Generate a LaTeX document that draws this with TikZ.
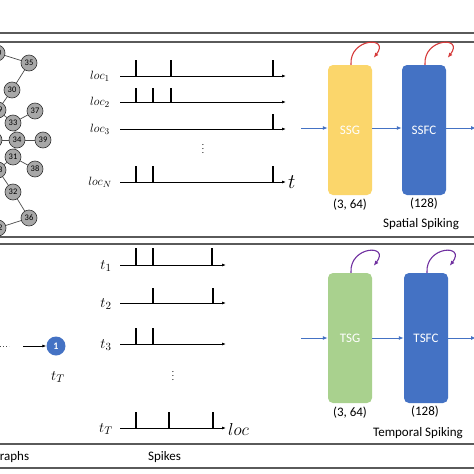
\documentclass[tikz,border=0pt]{standalone}
\usepackage{fontspec}
\setmainfont{Carlito}
\usetikzlibrary{arrows.meta,calc}
\definecolor{rulegray}{HTML}{5A5A5A}
\definecolor{nodegray}{HTML}{A8A8A8}
\definecolor{goldfill}{HTML}{FBD66B}
\definecolor{greenfill}{HTML}{A9D18E}
\definecolor{bluefill}{HTML}{4472C4}
\definecolor{loopred}{HTML}{D63A3A}
\definecolor{looppurple}{HTML}{7030A0}
\begin{document}
\begin{tikzpicture}[x=1pt,y=-1pt,
  gnode/.style={circle,draw=black!80,fill=nodegray,line width=0.6pt,minimum size=16pt,inner sep=0pt,font=\fontsize{8.5}{8.5}\selectfont},
  gedge/.style={draw=black!70,line width=0.7pt},
  hrule/.style={draw=rulegray,line width=1.1pt},
  axis/.style={-{Latex[length=4pt,width=3pt]},line width=0.8pt},
  spk/.style={line width=1.1pt},
  mlab/.style={inner sep=0pt,font=\fontsize{12.5}{12.5}\selectfont},
  tlabs/.style={inner sep=0pt,font=\fontsize{15}{15}\selectfont},
  block/.style={rounded corners=5pt,minimum width=44pt,minimum height=130pt,inner sep=0pt,text=white,font=\fontsize{13}{13}\selectfont},
  flow/.style={draw=bluefill,line width=1pt,-{Latex[length=5pt,width=4pt]}},
  selfloop/.style={line width=1.1pt,-{Latex[length=5pt,width=4pt]}},
  lab/.style={inner sep=0pt,font=\fontsize{13}{13}\selectfont},
]
\useasboundingbox (0,0) rectangle (474,474);
\fill[white] (0,0) rectangle (474,474);

% table rules
\draw[hrule] (0,33) -- (474,33);
\draw[hrule] (0,42) -- (474,42);
\draw[hrule] (0,237) -- (474,237);
\draw[hrule] (0,244) -- (474,244);
\draw[hrule] (0,444) -- (474,444);
\draw[hrule] (0,468) -- (474,468);

% ---------- graph (top left) ----------
\node[gnode] (g40) at (-3,53) {40};
\node[gnode] (g35) at (29,63) {35};
\node[gnode] (g30) at (12,90) {30};
\node[gnode] (g29) at (-2,110) {29};
\node[gnode] (g33) at (13,123) {33};
\node[gnode] (g37) at (35,111) {37};
\node[gnode] (g28) at (-6,140) {28};
\node[gnode] (g34) at (17,140) {34};
\node[gnode] (g39) at (43,140) {39};
\node[gnode] (g31) at (13,157) {31};
\node[gnode] (g38) at (35,169) {38};
\node[gnode] (g23) at (-2,170) {23};
\node[gnode] (g32) at (13,192) {32};
\node[gnode] (g36) at (29,218) {36};
\node[gnode] (g22) at (-2,228) {22};
\foreach \a/\b in {g40/g35,g35/g30,g30/g29,g29/g33,g33/g37,g33/g34,g34/g39,g34/g28,g34/g31,g31/g38,g31/g23,g23/g32,g32/g36,g36/g22}
  \draw[gedge] (\a) -- (\b);

% ---------- spatial spikes ----------
\node[mlab] (l1) at (100,76) {$loc_1$};
\node[mlab] (l2) at (100,102) {$loc_2$};
\node[mlab] (l3) at (100,129) {$loc_3$};
\node[mlab] (lN) at (100,182) {$loc_N$};
\coordinate (l1s) at (120,76);  \coordinate (l1e) at (286,76);
\coordinate (l2s) at (120,102); \coordinate (l2e) at (286,102);
\coordinate (l3s) at (120,129); \coordinate (l3e) at (286,129);
\coordinate (lNs) at (120,182); \coordinate (lNe) at (286,182);
\draw[axis] (l1s) -- (l1e);
\draw[axis] (l2s) -- (l2e);
\draw[axis] (l3s) -- (l3e);
\draw[axis] (lNs) -- (lNe);
\foreach \x in {136,171,273} \draw[spk] (\x,76) -- (\x,60);
\foreach \x in {136,153,171} \draw[spk] (\x,102) -- (\x,88);
\foreach \x in {273} \draw[spk] (\x,129) -- (\x,114);
\foreach \x in {136,153,273} \draw[spk] (\x,182) -- (\x,166);
\node[inner sep=0pt,font=\fontsize{9}{9}\selectfont] (vd1) at (203,146) {$\vdots$};
\node[inner sep=0pt,font=\fontsize{20}{20}\selectfont,anchor=west] (tlab) at (288,182) {$t$};

% ---------- spatial blocks ----------
\node[block,fill=goldfill] (ssg) at (350,130) {SSG};
\node[block,fill=bluefill] (ssfc) at (424,130) {SSFC};
\coordinate (sin) at (301,128);
\coordinate (sout) at (476,128);
\draw[flow] (sin) -- (sin -| ssg.west);
\draw[flow] (ssg.east |- sin) -- (ssfc.west |- sin);
\draw[flow] (ssfc.east |- sin) -- (sout);
\draw[selfloop,draw=loopred] ([xshift=1pt]ssg.north) .. controls +(-2,-27) and +(17,-22) .. ([xshift=1.5pt,yshift=7pt]ssg.north east);
\draw[selfloop,draw=loopred] ([xshift=1pt]ssfc.north) .. controls +(-2,-27) and +(17,-22) .. ([xshift=1.5pt,yshift=7pt]ssfc.north east);
\node[lab] (ssgdim) at (350,205) {(3, 64)};
\node[lab] (ssfcdim) at (424,204) {(128)};
\node[lab] (spatial) at (421,224) {Spatial Spiking};

% ---------- temporal (bottom left) ----------
\draw[line width=1pt,dotted,draw=black!70] (0,346) -- (9,346);
\coordinate (dstart) at (23,346);
\node[circle,fill=bluefill,minimum size=19pt,inner sep=0pt,text=white,font=\fontsize{10}{10}\selectfont\bfseries] (one) at (56,346) {1};
\draw[line width=0.7pt,-{Latex[length=4pt,width=3pt]}] (dstart) -- (one);
\node[tlabs] (tT) at (58,377) {$t_T$};

\node[tlabs] (t1) at (106,266) {$t_1$};
\node[tlabs] (t2) at (106,304) {$t_2$};
\node[tlabs] (t3) at (106,345) {$t_3$};
\node[tlabs] (tTT) at (106,429) {$t_T$};
\coordinate (t1s) at (120,265); \coordinate (t1e) at (226,265);
\coordinate (t2s) at (120,303); \coordinate (t2e) at (226,303);
\coordinate (t3s) at (120,344); \coordinate (t3e) at (226,344);
\coordinate (tTs) at (120,428); \coordinate (tTe) at (226,428);
\draw[axis] (t1s) -- (t1e);
\draw[axis] (t2s) -- (t2e);
\draw[axis] (t3s) -- (t3e);
\draw[axis] (tTs) -- (tTe);
\foreach \x in {136,153,212} \draw[spk] (\x,265) -- (\x,248);
\foreach \x in {153,213} \draw[spk] (\x,303) -- (\x,288);
\foreach \x in {136,153} \draw[spk] (\x,344) -- (\x,328);
\foreach \x in {136,169,213} \draw[spk] (\x,428) -- (\x,412);
\node[inner sep=0pt,font=\fontsize{9}{9}\selectfont] (vd2) at (173,373) {$\vdots$};
\node[inner sep=0pt,font=\fontsize{17}{17}\selectfont,anchor=west] (loclab) at (228,429) {$loc$};

% ---------- temporal blocks ----------
\node[block,fill=greenfill] (tsg) at (350,338) {TSG};
\node[block,fill=bluefill] (tsfc) at (426,338) {TSFC};
\coordinate (tin) at (301,338);
\coordinate (tout) at (476,338);
\draw[flow] (tin) -- (tin -| tsg.west);
\draw[flow] (tsg.east |- tin) -- (tsfc.west |- tin);
\draw[flow] (tsfc.east |- tin) -- (tout);
\draw[selfloop,draw=looppurple] ([xshift=1pt]tsg.north) .. controls +(-2,-27) and +(17,-22) .. ([xshift=1.5pt,yshift=7pt]tsg.north east);
\draw[selfloop,draw=looppurple] ([xshift=1pt]tsfc.north) .. controls +(-2,-27) and +(17,-22) .. ([xshift=1.5pt,yshift=7pt]tsfc.north east);
\node[lab] (tsgdim) at (350,413) {(3, 64)};
\node[lab] (tsfcdim) at (425,412) {(128)};
\node[lab] (temporal) at (418,433) {Temporal Spiking};

% ---------- bottom captions ----------
\node[lab,anchor=base west] (graphs) at (-8.5,460) {Graphs};
\node[lab,anchor=base west] (spikes) at (148,460) {Spikes};
\end{tikzpicture}
\end{document}
